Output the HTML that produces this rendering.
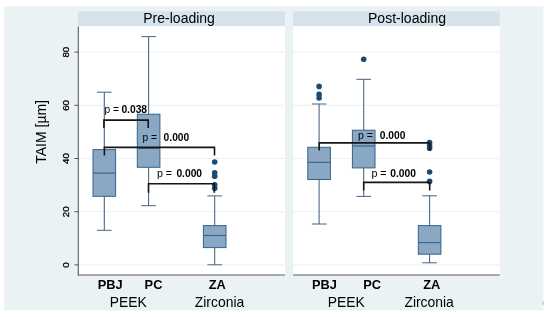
<!DOCTYPE html><html><head><meta charset="utf-8"><title>TAIM box plot</title>
<style>html,body{margin:0;padding:0;background:#fff;}svg{display:block}text{font-family:"Liberation Sans",Arial,sans-serif;fill:#000}</style></head><body>
<svg width="550" height="317" viewBox="0 0 550 317">
<rect width="550" height="317" fill="#fff"/>
<rect x="4.2" y="6.4" width="539.2" height="304" fill="#eaf2f3"/>
<rect x="77.8" y="11.3" width="207.09999999999997" height="14.9" fill="#d6e3ec"/>
<rect x="77.8" y="26.2" width="207.09999999999997" height="248.8" fill="#fff"/>
<line x1="77.8" x2="284.9" y1="264.9" y2="264.9" stroke="#ecf1f1" stroke-width="1"/>
<line x1="77.8" x2="284.9" y1="211.7" y2="211.7" stroke="#ecf1f1" stroke-width="1"/>
<line x1="77.8" x2="284.9" y1="158.5" y2="158.5" stroke="#ecf1f1" stroke-width="1"/>
<line x1="77.8" x2="284.9" y1="105.3" y2="105.3" stroke="#ecf1f1" stroke-width="1"/>
<line x1="77.8" x2="284.9" y1="52.1" y2="52.1" stroke="#ecf1f1" stroke-width="1"/>
<line x1="77.8" x2="284.9" y1="275" y2="275" stroke="#5a5a5a" stroke-width="1.1"/>
<rect x="293.0" y="11.3" width="206.7" height="14.9" fill="#d6e3ec"/>
<rect x="293.0" y="26.2" width="206.7" height="248.8" fill="#fff"/>
<line x1="293.0" x2="499.7" y1="264.9" y2="264.9" stroke="#ecf1f1" stroke-width="1"/>
<line x1="293.0" x2="499.7" y1="211.7" y2="211.7" stroke="#ecf1f1" stroke-width="1"/>
<line x1="293.0" x2="499.7" y1="158.5" y2="158.5" stroke="#ecf1f1" stroke-width="1"/>
<line x1="293.0" x2="499.7" y1="105.3" y2="105.3" stroke="#ecf1f1" stroke-width="1"/>
<line x1="293.0" x2="499.7" y1="52.1" y2="52.1" stroke="#ecf1f1" stroke-width="1"/>
<line x1="293.0" x2="499.7" y1="275" y2="275" stroke="#5a5a5a" stroke-width="1.1"/>
<line x1="78.3" x2="78.3" y1="26.4" y2="275.4" stroke="#5a5a5a" stroke-width="1.1"/>
<line x1="74.4" x2="78.3" y1="264.9" y2="264.9" stroke="#5a5a5a" stroke-width="1"/>
<text transform="translate(68.9,265.0) rotate(-90)" text-anchor="middle" font-size="9.7" stroke="#000" stroke-width="0.3">0</text>
<line x1="74.4" x2="78.3" y1="211.7" y2="211.7" stroke="#5a5a5a" stroke-width="1"/>
<text transform="translate(68.9,211.8) rotate(-90)" text-anchor="middle" font-size="9.7" stroke="#000" stroke-width="0.3">20</text>
<line x1="74.4" x2="78.3" y1="158.5" y2="158.5" stroke="#5a5a5a" stroke-width="1"/>
<text transform="translate(68.9,158.6) rotate(-90)" text-anchor="middle" font-size="9.7" stroke="#000" stroke-width="0.3">40</text>
<line x1="74.4" x2="78.3" y1="105.3" y2="105.3" stroke="#5a5a5a" stroke-width="1"/>
<text transform="translate(68.9,105.4) rotate(-90)" text-anchor="middle" font-size="9.7" stroke="#000" stroke-width="0.3">60</text>
<line x1="74.4" x2="78.3" y1="52.1" y2="52.1" stroke="#5a5a5a" stroke-width="1"/>
<text transform="translate(68.9,52.2) rotate(-90)" text-anchor="middle" font-size="9.7" stroke="#000" stroke-width="0.3">80</text>
<text transform="translate(46.4,131.9) rotate(-90)" text-anchor="middle" font-size="14">TAIM [µm]</text>
<text x="179.1" y="22.5" text-anchor="middle" font-size="14">Pre-loading</text>
<text x="407.0" y="22.5" text-anchor="middle" font-size="14.05">Post-loading</text>
<line x1="104.3" x2="104.3" y1="92.2" y2="149.6" stroke="#46627f" stroke-width="1.05"/>
<line x1="104.3" x2="104.3" y1="196.3" y2="230.3" stroke="#46627f" stroke-width="1.05"/>
<line x1="97.0" x2="111.6" y1="92.2" y2="92.2" stroke="#46627f" stroke-width="1.0"/>
<line x1="97.0" x2="111.6" y1="230.3" y2="230.3" stroke="#46627f" stroke-width="1.0"/>
<rect x="93.0" y="149.6" width="22.6" height="46.70000000000002" fill="#8aa7c4" stroke="#35638a" stroke-width="1.0"/>
<line x1="93.0" x2="115.6" y1="173.1" y2="173.1" stroke="#35638a" stroke-width="1.1"/>
<line x1="148.6" x2="148.6" y1="36.6" y2="114.2" stroke="#46627f" stroke-width="1.05"/>
<line x1="148.6" x2="148.6" y1="167.3" y2="205.7" stroke="#46627f" stroke-width="1.05"/>
<line x1="141.29999999999998" x2="155.9" y1="36.6" y2="36.6" stroke="#46627f" stroke-width="1.0"/>
<line x1="141.29999999999998" x2="155.9" y1="205.7" y2="205.7" stroke="#46627f" stroke-width="1.0"/>
<rect x="137.29999999999998" y="114.2" width="22.6" height="53.10000000000001" fill="#8aa7c4" stroke="#35638a" stroke-width="1.0"/>
<line x1="137.29999999999998" x2="159.9" y1="148.3" y2="148.3" stroke="#35638a" stroke-width="1.1"/>
<line x1="214.7" x2="214.7" y1="195.9" y2="225.6" stroke="#46627f" stroke-width="1.05"/>
<line x1="214.7" x2="214.7" y1="247.6" y2="264.8" stroke="#46627f" stroke-width="1.05"/>
<line x1="207.39999999999998" x2="222.0" y1="195.9" y2="195.9" stroke="#46627f" stroke-width="1.0"/>
<line x1="207.39999999999998" x2="222.0" y1="264.8" y2="264.8" stroke="#46627f" stroke-width="1.0"/>
<rect x="203.39999999999998" y="225.6" width="22.6" height="22.0" fill="#8aa7c4" stroke="#35638a" stroke-width="1.0"/>
<line x1="203.39999999999998" x2="226.0" y1="235.5" y2="235.5" stroke="#35638a" stroke-width="1.1"/>
<circle cx="214.7" cy="162" r="2.8" fill="#1a4a75"/>
<circle cx="214.7" cy="172.8" r="2.8" fill="#1a4a75"/>
<circle cx="214.7" cy="176.2" r="2.8" fill="#1a4a75"/>
<circle cx="214.7" cy="184.8" r="2.8" fill="#1a4a75"/>
<circle cx="214.7" cy="188.2" r="2.8" fill="#1a4a75"/>
<line x1="319.1" x2="319.1" y1="104.0" y2="147.3" stroke="#46627f" stroke-width="1.05"/>
<line x1="319.1" x2="319.1" y1="179.5" y2="224" stroke="#46627f" stroke-width="1.05"/>
<line x1="311.8" x2="326.40000000000003" y1="104.0" y2="104.0" stroke="#46627f" stroke-width="1.0"/>
<line x1="311.8" x2="326.40000000000003" y1="224" y2="224" stroke="#46627f" stroke-width="1.0"/>
<rect x="307.8" y="147.3" width="22.6" height="32.19999999999999" fill="#8aa7c4" stroke="#35638a" stroke-width="1.0"/>
<line x1="307.8" x2="330.40000000000003" y1="162.3" y2="162.3" stroke="#35638a" stroke-width="1.1"/>
<circle cx="319.1" cy="86.4" r="2.8" fill="#1a4a75"/>
<circle cx="319.1" cy="94.4" r="2.8" fill="#1a4a75"/>
<circle cx="319.1" cy="98.0" r="2.8" fill="#1a4a75"/>
<line x1="363.7" x2="363.7" y1="79.3" y2="130.2" stroke="#46627f" stroke-width="1.05"/>
<line x1="363.7" x2="363.7" y1="167.9" y2="196.4" stroke="#46627f" stroke-width="1.05"/>
<line x1="356.4" x2="371.0" y1="79.3" y2="79.3" stroke="#46627f" stroke-width="1.0"/>
<line x1="356.4" x2="371.0" y1="196.4" y2="196.4" stroke="#46627f" stroke-width="1.0"/>
<rect x="352.4" y="130.2" width="22.6" height="37.70000000000002" fill="#8aa7c4" stroke="#35638a" stroke-width="1.0"/>
<line x1="352.4" x2="375.0" y1="146.0" y2="146.0" stroke="#35638a" stroke-width="1.1"/>
<circle cx="363.7" cy="59.3" r="2.8" fill="#1a4a75"/>
<line x1="429.6" x2="429.6" y1="195.8" y2="225.6" stroke="#46627f" stroke-width="1.05"/>
<line x1="429.6" x2="429.6" y1="254.2" y2="262.8" stroke="#46627f" stroke-width="1.05"/>
<line x1="422.3" x2="436.90000000000003" y1="195.8" y2="195.8" stroke="#46627f" stroke-width="1.0"/>
<line x1="422.3" x2="436.90000000000003" y1="262.8" y2="262.8" stroke="#46627f" stroke-width="1.0"/>
<rect x="418.3" y="225.6" width="22.6" height="28.599999999999994" fill="#8aa7c4" stroke="#35638a" stroke-width="1.0"/>
<line x1="418.3" x2="440.90000000000003" y1="242.6" y2="242.6" stroke="#35638a" stroke-width="1.1"/>
<circle cx="429.6" cy="142.6" r="2.8" fill="#1a4a75"/>
<circle cx="429.6" cy="145.5" r="2.8" fill="#1a4a75"/>
<circle cx="429.6" cy="148.3" r="2.8" fill="#1a4a75"/>
<circle cx="429.6" cy="172" r="2.8" fill="#1a4a75"/>
<circle cx="429.6" cy="181.4" r="2.8" fill="#1a4a75"/>
<path d="M103.9 127.9V120.1H148.2V127.9" fill="none" stroke="#161616" stroke-width="1.6" stroke-linejoin="miter"/>
<path d="M104.4 155.4V147.4H214.5V155.4" fill="none" stroke="#161616" stroke-width="1.6" stroke-linejoin="miter"/>
<path d="M148.5 192.8V183.8H214.3V192.8" fill="none" stroke="#161616" stroke-width="1.6" stroke-linejoin="miter"/>
<path d="M319.2 150.4V142.9H429.7V150.4" fill="none" stroke="#161616" stroke-width="1.6" stroke-linejoin="miter"/>
<path d="M363.7 190.6V182.4H429.7V190.6" fill="none" stroke="#161616" stroke-width="1.6" stroke-linejoin="miter"/>
<text x="104.5" y="113" font-size="10.2">p =</text><text x="121.4" y="113" font-size="10.25" font-weight="bold">0.038</text>
<text x="142.4" y="140.6" font-size="10.2">p =</text><text x="163.6" y="140.6" font-size="10.25" font-weight="bold">0.000</text>
<text x="156.9" y="176.9" font-size="10.7">p =</text><text x="176.4" y="176.9" font-size="10.25" font-weight="bold">0.000</text>
<text x="358.1" y="139.1" font-size="10.5">p =</text><text x="379.7" y="139.1" font-size="10.25" font-weight="bold">0.000</text>
<text x="371.4" y="176.9" font-size="10.7">p =</text><text x="390.2" y="176.9" font-size="10.25" font-weight="bold">0.000</text>
<text x="110.2" y="288.8" text-anchor="middle" font-size="12.8" font-weight="bold">PBJ</text>
<text x="153.5" y="288.8" text-anchor="middle" font-size="12.8" font-weight="bold">PC</text>
<text x="217.2" y="288.8" text-anchor="middle" font-size="12.8" font-weight="bold">ZA</text>
<text x="128.2" y="307" text-anchor="middle" font-size="13.9">PEEK</text>
<text x="219.5" y="307" text-anchor="middle" font-size="13.9">Zirconia</text>
<text x="324.5" y="288.8" text-anchor="middle" font-size="12.8" font-weight="bold">PBJ</text>
<text x="372.2" y="288.8" text-anchor="middle" font-size="12.8" font-weight="bold">PC</text>
<text x="431.8" y="288.8" text-anchor="middle" font-size="12.8" font-weight="bold">ZA</text>
<text x="346.3" y="307" text-anchor="middle" font-size="13.9">PEEK</text>
<text x="429.1" y="307" text-anchor="middle" font-size="13.9">Zirconia</text>
<rect x="542.6" y="301" width="1" height="4" fill="#9cc4ee"/>
</svg></body></html>
